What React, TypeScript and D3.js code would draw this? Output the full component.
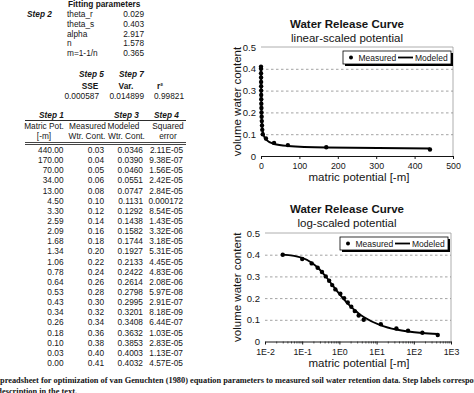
import React, { useEffect, useRef } from 'react';
import * as d3 from 'd3';

const FONT = 'Liberation Sans, Arial, sans-serif';
const INK = '#151515';

// Step 2: fitted parameters
const paramNames = ['theta_r', 'theta_s', 'alpha', 'n', 'm=1-1/n'];
const paramValues = [0.029, 0.403, 2.917, 1.578, 0.365];

// Step 5 / Step 7
const statNames = ['SSE', 'Var.', 'r²'];
const statValues = ['0.000587', '0.014899', '0.99821'];

// Steps 1, 3, 4
const matricPot = [440, 170, 70, 34, 13, 4.5, 3.3, 2.59, 2.09, 1.68, 1.34, 1.06, 0.78, 0.64, 0.53, 0.43, 0.34, 0.26, 0.18, 0.1, 0.03, 0];
const measured = [0.03, 0.04, 0.05, 0.06, 0.08, 0.1, 0.12, 0.14, 0.16, 0.18, 0.2, 0.22, 0.24, 0.26, 0.28, 0.3, 0.32, 0.34, 0.36, 0.38, 0.4, 0.41];
const modeled = [0.0346, 0.039, 0.046, 0.0551, 0.0747, 0.1131, 0.1292, 0.1438, 0.1582, 0.1744, 0.1927, 0.2133, 0.2422, 0.2614, 0.2798, 0.2995, 0.3201, 0.3408, 0.3632, 0.3853, 0.4003, 0.4032];
const squaredError = ['2.11E-05', '9.38E-07', '1.56E-05', '2.42E-05', '2.84E-05', '0.000172', '8.54E-05', '1.43E-05', '3.32E-06', '3.18E-05', '5.31E-05', '4.45E-05', '4.83E-06', '2.08E-06', '5.97E-08', '2.91E-07', '8.18E-09', '6.44E-07', '1.03E-05', '2.83E-05', '1.13E-07', '4.57E-05'];

// axis ticks
const yTicks = [0, 0.1, 0.2, 0.3, 0.4, 0.5];
const gridTicks = [0.1, 0.2, 0.3, 0.4];
const linTicks = [0, 100, 200, 300, 400, 500];
const logTicks = [1e-2, 1e-1, 1e0, 1e1, 1e2, 1e3];

const captionLines = [
  'Spreadsheet for optimization of van Genuchten (1980) equation parameters to measured soil water retention data. Step labels correspond to the',
  'description in the text.',
];

function drawSheet(g) {
  const t = (x, y, s, anchor = 'start', weight = 'normal', style = 'normal') =>
    g.append('text')
      .attr('x', x).attr('y', y)
      .attr('text-anchor', anchor)
      .attr('font-weight', weight)
      .attr('font-style', style)
      .attr('font-size', 8.3)
      .attr('font-family', FONT)
      .attr('fill', INK)
      .text(s);

  t(68, 6.5, 'Fitting parameters', 'start', 'bold');
  t(27, 17, 'Step 2', 'start', 'bold', 'italic');
  paramNames.forEach((name, i) => {
    t(67, 17 + i * 9.8, name);
    t(144, 17 + i * 9.8, d3.format('.3f')(paramValues[i]), 'end');
  });

  t(79, 77, 'Step 5', 'start', 'bold', 'italic');
  t(119, 77, 'Step 7', 'start', 'bold', 'italic');
  const statX = [90, 126, 160];
  const statEnd = [99, 144, 184];
  statNames.forEach((s, i) => t(statX[i], 89, s, 'middle', 'bold'));
  statValues.forEach((s, i) => t(statEnd[i], 99, s, 'end'));

  t(39, 117.5, 'Step 1', 'start', 'bold', 'italic');
  t(114, 117.5, 'Step 3', 'start', 'bold', 'italic');
  t(154, 117.5, 'Step 4', 'start', 'bold', 'italic');
  g.append('line').attr('x1', 25).attr('x2', 186).attr('y1', 120.5).attr('y2', 120.5)
    .attr('stroke', INK).attr('stroke-width', 0.9);

  t(44, 128.5, 'Matric Pot.', 'middle');
  t(87.5, 128.5, 'Measured', 'middle');
  t(123.5, 128.5, 'Modeled', 'middle');
  t(168, 128.5, 'Squared', 'middle');
  t(44, 138.5, '[-m]', 'middle');
  t(87, 138.5, 'Wtr. Cont.', 'middle');
  t(126.5, 138.5, 'Wtr. Cont.', 'middle');
  t(168, 138.5, 'error', 'middle');
  [142.5, 144.5].forEach(y =>
    g.append('line').attr('x1', 25).attr('x2', 186).attr('y1', y).attr('y2', y)
      .attr('stroke', INK).attr('stroke-width', 0.8));

  const rowY = d3.scaleLinear().domain([0, matricPot.length - 1]).range([153, 366]);
  matricPot.forEach((p, i) => {
    const y = rowY(i);
    t(63.5, y, d3.format('.2f')(p), 'end');
    t(104, y, d3.format('.2f')(measured[i]), 'end');
    t(143, y, d3.format('.4f')(modeled[i]), 'end');
    t(183, y, squaredError[i], 'end');
  });
}

function drawCurve(g, o) {
  const { x, y, xTicks, xFormat, minorTicks, subtitle, top, legendX, legendY } = o;
  const [x0, x1] = x.range();
  const [yb, yt] = y.range();

  // titles
  g.append('text').attr('x', 347).attr('y', top).attr('text-anchor', 'middle')
    .attr('font-family', FONT).attr('font-size', 11.5).attr('font-weight', 'bold').attr('fill', INK)
    .text('Water Release Curve');
  g.append('text').attr('x', 347).attr('y', top + 14).attr('text-anchor', 'middle')
    .attr('font-family', FONT).attr('font-size', 11.5).attr('fill', INK)
    .text(subtitle);

  // frame (top + right) and dashed gridlines
  g.append('path').attr('d', `M${x0},${yt}H${x1}V${yb}`)
    .attr('fill', 'none').attr('stroke', '#9a9a9a').attr('stroke-width', 0.8);
  const grid = g.append('g').attr('transform', `translate(${x0},0)`)
    .call(d3.axisLeft(y).tickValues(gridTicks).tickSize(-(x1 - x0)).tickFormat(() => ''));
  grid.select('.domain').remove();
  grid.selectAll('line').attr('stroke', '#8a8a8a').attr('stroke-width', 0.8).attr('stroke-dasharray', '2.5,2.5');

  // y axis labels
  const ya = g.append('g').attr('transform', `translate(${x0},0)`)
    .call(d3.axisLeft(y).tickValues(yTicks).tickSize(0).tickPadding(5)
      .tickFormat(d => (d === 0 ? '0' : d3.format('.1f')(d))));
  ya.select('.domain').remove();
  ya.attr('font-family', FONT).attr('font-size', 9.5);
  ya.selectAll('text').attr('fill', INK);

  // x axis
  if (minorTicks) {
    const mi = g.append('g').attr('transform', `translate(0,${yb})`)
      .call(d3.axisBottom(x).tickValues(minorTicks).tickSize(2).tickFormat(() => ''));
    mi.select('.domain').remove();
    mi.selectAll('line').attr('stroke', INK).attr('stroke-width', 0.7);
  }
  const xa = g.append('g').attr('transform', `translate(0,${yb})`)
    .call(d3.axisBottom(x).tickValues(xTicks).tickSize(3).tickSizeOuter(0).tickPadding(4).tickFormat(xFormat));
  xa.attr('font-family', FONT).attr('font-size', 8.8);
  xa.select('.domain').attr('stroke', INK).attr('stroke-width', 1);
  xa.selectAll('line').attr('stroke', INK);
  xa.selectAll('text').attr('fill', INK);

  // axis titles
  g.append('text').attr('x', 359).attr('y', yb + 25).attr('text-anchor', 'middle')
    .attr('font-family', FONT).attr('font-size', 11.5).attr('fill', INK)
    .text('matric potential [-m]');
  g.append('text').attr('transform', `translate(241,${(yb + yt) / 2}) rotate(-90)`)
    .attr('text-anchor', 'middle')
    .attr('font-family', FONT).attr('font-size', 11.5).attr('fill', INK)
    .text('volume water content');

  // modeled line + measured points
  const idx = d3.range(matricPot.length).filter(i => x.domain()[0] > 0 ? matricPot[i] > 0 : true)
    .sort((a, b) => matricPot[a] - matricPot[b]);
  const line = d3.line().x(i => x(matricPot[i])).y(i => y(modeled[i])).curve(d3.curveMonotoneX);
  g.append('path').datum(idx).attr('d', line)
    .attr('fill', 'none').attr('stroke', '#000').attr('stroke-width', 1.9);
  g.append('g').selectAll('circle').data(idx).join('circle')
    .attr('cx', i => x(matricPot[i])).attr('cy', i => y(measured[i])).attr('r', 2.2)
    .attr('fill', '#000');

  // legend
  const lg = g.append('g').attr('transform', `translate(${legendX},${legendY})`);
  lg.append('rect').attr('x', 2).attr('y', 2).attr('width', 108).attr('height', 13).attr('fill', '#000');
  lg.append('rect').attr('width', 108).attr('height', 13).attr('fill', '#fff')
    .attr('stroke', '#000').attr('stroke-width', 0.8);
  lg.append('circle').attr('cx', 8).attr('cy', 6.5).attr('r', 2).attr('fill', '#000');
  lg.append('text').attr('x', 15.5).attr('y', 9.6).attr('font-family', FONT).attr('font-size', 8.5)
    .attr('fill', INK).text('Measured');
  lg.append('line').attr('x1', 55).attr('x2', 70).attr('y1', 6.5).attr('y2', 6.5)
    .attr('stroke', '#000').attr('stroke-width', 1.8);
  lg.append('text').attr('x', 72).attr('y', 9.6).attr('font-family', FONT).attr('font-size', 8.5)
    .attr('fill', INK).text('Modeled');
}

export default function App() {
  const ref = useRef(null);
  useEffect(() => {
    const svg = d3.select(ref.current);
    svg.selectAll('*').remove();

    drawSheet(svg.append('g'));

    drawCurve(svg.append('g'), {
      x: d3.scaleLinear().domain([0, 500]).range([261, 453]),
      y: d3.scaleLinear().domain([0, 0.5]).range([156, 47]),
      xTicks: linTicks,
      xFormat: d3.format('d'),
      minorTicks: null,
      subtitle: 'linear-scaled potential',
      top: 28,
      legendX: 343,
      legendY: 51,
    });

    const minor = d3.range(-2, 3).flatMap(k => d3.range(2, 10).map(m => m * Math.pow(10, k)));
    drawCurve(svg.append('g'), {
      x: d3.scaleLog().domain([1e-2, 1e3]).range([265, 451]),
      y: d3.scaleLinear().domain([0, 0.5]).range([341.5, 233]),
      xTicks: logTicks,
      xFormat: d => `1E${Math.round(Math.log10(d))}`,
      minorTicks: minor,
      subtitle: 'log-scaled potential',
      top: 213,
      legendX: 340,
      legendY: 237,
    });

    const cap = svg.append('g');
    captionLines.forEach((s, i) =>
      cap.append('text').attr('x', i === 0 ? -4.6 : -2.7).attr('y', 382.5 + i * 11)
        .attr('font-family', 'Liberation Serif, Times New Roman, serif')
        .attr('font-size', 8.35).attr('font-weight', 'bold').attr('fill', INK)
        .text(s));

    return () => {
      svg.selectAll('*').remove();
    };
  }, []);

  return (
    <svg ref={ref} width={474} height={393}
      style={{ position: 'absolute', left: 0, top: 0, background: '#fff', display: 'block' }} />
  );
}
